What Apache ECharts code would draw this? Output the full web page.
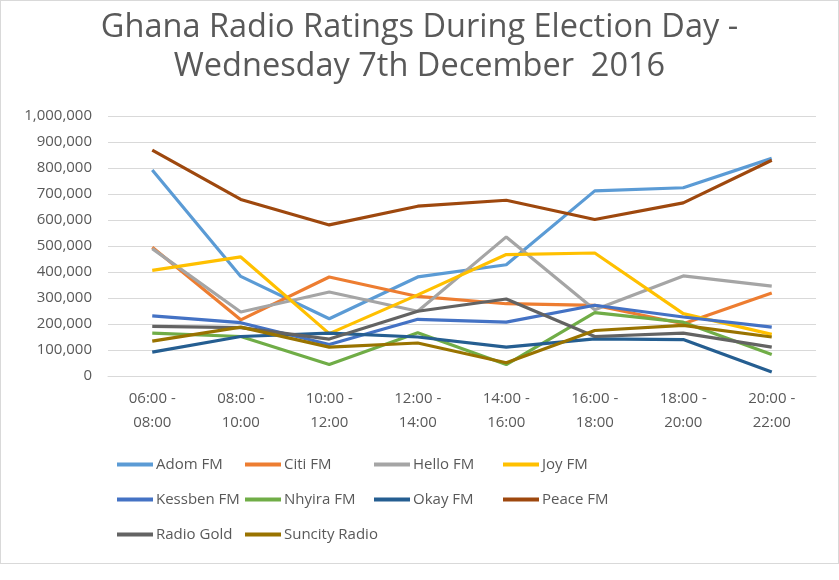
<!DOCTYPE html>
<html>
<head>
<meta charset="utf-8">
<script src="https://cdn.jsdelivr.net/npm/echarts@6/dist/echarts.min.js"></script>
<style>
  html, body { margin: 0; padding: 0; background: #fff; }
  #chart { width: 837px; height: 562px; border: 1px solid #d9d9d9; }
</style>
</head>
<body>
<div id="chart"></div>
<script>
// time slots on election day
const slots = ['06:00 -\n08:00', '08:00 -\n10:00', '10:00 -\n12:00', '12:00 -\n14:00',
  '14:00 -\n16:00', '16:00 -\n18:00', '18:00 -\n20:00', '20:00 -\n22:00']

// listeners per station
const adomFm = [792000, 383000, 220000, 381000, 428000, 712000, 724000, 837000]
const citiFm = [495000, 216000, 381000, 306000, 278000, 272000, 201000, 319000]
const helloFm = [490000, 246000, 323000, 249000, 535000, 255000, 385000, 346000]
const joyFm = [406000, 458000, 163000, 312000, 467000, 473000, 240000, 160000]
const kessbenFm = [231000, 205000, 121000, 218000, 207000, 272000, 227000, 188000]
const nhyiraFm = [165000, 152000, 44000, 166000, 44000, 244000, 207000, 83000]
const okayFm = [92000, 152000, 165000, 150000, 111000, 143000, 140000, 15000]
const peaceFm = [869000, 679000, 581000, 653000, 676000, 602000, 666000, 830000]
const radioGold = [191000, 186000, 142000, 249000, 296000, 152000, 165000, 111000]
const suncityRadio = [134000, 188000, 111000, 127000, 51000, 175000, 195000, 150000]

const stations = [
  ['Adom FM', adomFm, '#5B9BD5'],
  ['Citi FM', citiFm, '#ED7D31'],
  ['Hello FM', helloFm, '#A5A5A5'],
  ['Joy FM', joyFm, '#FFC000'],
  ['Kessben FM', kessbenFm, '#4472C4'],
  ['Nhyira FM', nhyiraFm, '#70AD47'],
  ['Okay FM', okayFm, '#255E91'],
  ['Peace FM', peaceFm, '#9E480E'],
  ['Radio Gold', radioGold, '#636363'],
  ['Suncity Radio', suncityRadio, '#997300']
]

const font = 'Open Sans'
const textColor = '#595959'

const chart = echarts.init(document.getElementById('chart'))

// excel style legend, 4 columns filled row by row
const legendLeft = [116, 244, 373, 502]
const legends = legendLeft.map((left, col) => ({
  data: stations.filter((s, i) => i % 4 === col).map((s) => s[0]),
  orient: 'vertical',
  left,
  top: 453,
  padding: 0,
  itemGap: 14,
  itemWidth: 36,
  itemHeight: 4,
  icon: 'rect',
  textStyle: { color: textColor, fontFamily: font, fontSize: 15, lineHeight: 21, padding: [0, 0, 0, -2] }
}))

chart.setOption({
  animation: false,
  color: stations.map((s) => s[2]),
  title: {
    text: 'Ghana Radio Ratings During Election Day -\nWednesday 7th December  2016',
    left: 'center',
    top: 2,
    textStyle: { color: textColor, fontFamily: font, fontSize: 32.5, fontWeight: 'normal', lineHeight: 39 }
  },
  legend: legends,
  grid: { left: 107, right: 22, top: 115, bottom: 187 },
  xAxis: {
    type: 'category',
    data: slots,
    boundaryGap: true,
    axisLine: { lineStyle: { color: '#d9d9d9', width: 1 } },
    axisTick: { show: false },
    axisLabel: { color: textColor, fontFamily: font, fontSize: 15, lineHeight: 24, margin: 11 }
  },
  yAxis: {
    type: 'value',
    min: 0,
    max: 1000000,
    interval: 100000,
    axisLine: { show: false },
    axisTick: { show: false },
    splitLine: { lineStyle: { color: '#d9d9d9', width: 1 } },
    axisLabel: {
      color: textColor, fontFamily: font, fontSize: 15, margin: 16,
      formatter: (v) => v.toLocaleString('en-US')
    }
  },
  series: stations.map(([name, values]) => ({
    name,
    type: 'line',
    data: values,
    symbol: 'none',
    lineStyle: { width: 3.2 },
    emphasis: { disabled: true }
  }))
})
</script>
</body>
</html>
